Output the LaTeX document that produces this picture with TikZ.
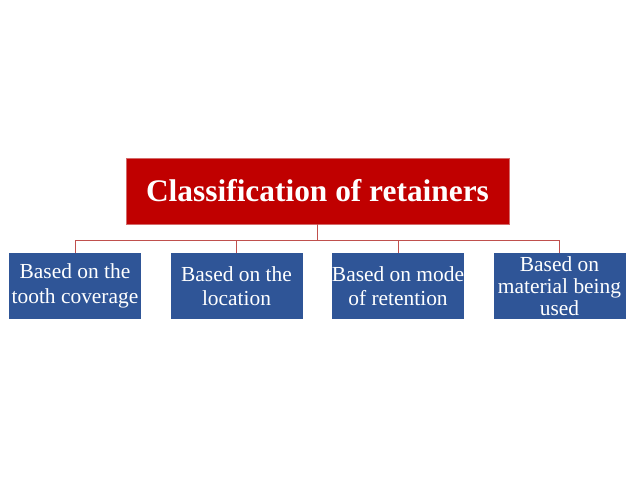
\documentclass[tikz,border=0pt]{standalone}
\usepackage{fontspec}
\setmainfont{Liberation Serif}
\definecolor{topred}{HTML}{C00000}
\definecolor{topedge}{HTML}{D46A6A}
\definecolor{boxblue}{HTML}{2F5597}
\definecolor{linered}{HTML}{C0504D}
\begin{document}
\begin{tikzpicture}[x=1bp,y=-1bp,
  topbox/.style={fill=topred,draw=topedge,line width=0.8bp,minimum width=383bp,minimum height=66bp,inner sep=0pt,text=white,font=\fontsize{31.5}{36}\selectfont\bfseries},
  childbox/.style={fill=boxblue,draw=none,minimum width=132bp,minimum height=66bp,inner sep=0pt,text=white,align=center,font=\fontsize{21.5}{24.5}\selectfont},
  tightbox/.style={childbox,font=\fontsize{21.5}{22}\selectfont},
  conn/.style={draw=linered,line width=1bp}]
\useasboundingbox (0,0) rectangle (638,478);
\node[topbox] (top) at (317.5,191) {Classification of retainers};
\node[childbox] (c1) at (75,286) {Based on the\\tooth coverage};
\node[childbox] (c2) at (236.5,286) {Based on the\\location};
\node[childbox] (c3) at (398,286) {Based on mode\\of retention};
\node[tightbox] (c4) at (559.5,286) {Based on\\material being\\used};
\coordinate (bus) at (0,240);
\draw[conn] (top.south) -- (top.south |- bus);
\draw[conn] (c1.north) -- (c1.north |- bus) -- (c4.north |- bus) -- (c4.north);
\draw[conn] (c2.north) -- (c2.north |- bus);
\draw[conn] (c3.north) -- (c3.north |- bus);
\end{tikzpicture}
\end{document}
